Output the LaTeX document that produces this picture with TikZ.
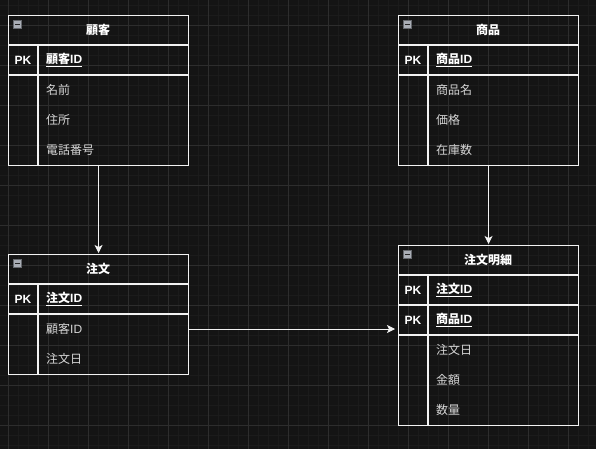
\documentclass[tikz,border=0pt]{standalone}
\usepackage{fontspec}
\setmainfont{Liberation Sans}
\newfontfamily\jp{Noto Sans CJK JP}
\usetikzlibrary{arrows.meta}
\definecolor{bgc}{HTML}{141414}
\definecolor{minorc}{HTML}{1B1B1B}
\definecolor{majorc}{HTML}{2D2D2D}
\definecolor{linec}{HTML}{F2F2F2}
\definecolor{fieldc}{HTML}{D6D6D6}
\definecolor{iconc}{HTML}{A9ADB5}
\tikzset{
  tbl/.style={draw=linec,line width=1.1pt,inner sep=0pt,anchor=north west},
  sep/.style={draw=linec,line width=1.1pt},
  ttl/.style={text=white,font=\fontsize{12}{14}\selectfont\bfseries,inner sep=0pt},
  pk/.style={text=white,font=\fontsize{12}{14}\selectfont\bfseries,inner sep=0pt},
  pkname/.style={text=white,font=\fontsize{12}{14}\selectfont\bfseries,inner sep=0pt,anchor=west},
  fld/.style={text=fieldc,font=\fontsize{12}{14}\selectfont,inner sep=0pt,anchor=west},
  icon/.style={fill=iconc,draw=iconc!60!black,line width=0.5pt,minimum size=8pt,inner sep=0pt},
  conn/.style={draw=linec,line width=1pt,-{Stealth[length=8pt,width=8pt,inset=2pt]}},
}
\begin{document}
\begin{tikzpicture}[x=1pt,y=-1pt]
\useasboundingbox (0,0) rectangle (596,449);
\fill[bgc] (0,0) rectangle (596,449);
\foreach \x in {-1.7,8.3,...,600} \draw[minorc,line width=0.6pt] (\x,0) -- (\x,449);
\foreach \y in {5,15,...,450} \draw[minorc,line width=0.6pt] (0,\y) -- (596,\y);
\foreach \x in {8.3,48.3,...,600} \draw[majorc,line width=0.8pt] (\x,0) -- (\x,449);
\foreach \y in {25,65,...,450} \draw[majorc,line width=0.8pt] (0,\y) -- (596,\y);

% 顧客
\node[tbl,minimum width=180pt,minimum height=150pt] (kokyaku) at (8,15) {};
\draw[sep] (8,45) -- (188,45);
\draw[sep] (8,75) -- (188,75);
\draw[sep] (38,45) -- (38,165);
\node[icon] (kokyaku-i) at (17.5,24.5) {};
\draw[black!85,line width=1.4pt] (15,24.5) -- (20,24.5);
\node[ttl] (kokyaku-t) at (98,30) {\jp 顧客};
\node[pk] (kokyaku-pk) at (23,60) {PK};
\node[pkname] (kokyaku-id) at (46,60) {\underline{{\jp 顧客}ID}};
\node[fld] (kokyaku-f1) at (46,90) {\jp 名前};
\node[fld] (kokyaku-f2) at (46,120) {\jp 住所};
\node[fld] (kokyaku-f3) at (46,150) {\jp 電話番号};

% 商品
\node[tbl,minimum width=180pt,minimum height=150pt] (shohin) at (398,15) {};
\draw[sep] (398,45) -- (578,45);
\draw[sep] (398,75) -- (578,75);
\draw[sep] (428,45) -- (428,165);
\node[icon] (shohin-i) at (407.5,24.5) {};
\draw[black!85,line width=1.4pt] (405,24.5) -- (410,24.5);
\node[ttl] (shohin-t) at (488,30) {\jp 商品};
\node[pk] (shohin-pk) at (413,60) {PK};
\node[pkname] (shohin-id) at (436,60) {\underline{{\jp 商品}ID}};
\node[fld] (shohin-f1) at (436,90) {\jp 商品名};
\node[fld] (shohin-f2) at (436,120) {\jp 価格};
\node[fld] (shohin-f3) at (436,150) {\jp 在庫数};

% 注文
\node[tbl,minimum width=180pt,minimum height=120pt] (chumon) at (8,254) {};
\draw[sep] (8,284) -- (188,284);
\draw[sep] (8,314) -- (188,314);
\draw[sep] (38,284) -- (38,374);
\node[icon] (chumon-i) at (17.5,263.5) {};
\draw[black!85,line width=1.4pt] (15,263.5) -- (20,263.5);
\node[ttl] (chumon-t) at (98,269) {\jp 注文};
\node[pk] (chumon-pk) at (23,299) {PK};
\node[pkname] (chumon-id) at (46,299) {\underline{{\jp 注文}ID}};
\node[fld] (chumon-f1) at (46,329) {{\jp 顧客}ID};
\node[fld] (chumon-f2) at (46,359) {\jp 注文日};

% 注文明細
\node[tbl,minimum width=180pt,minimum height=180pt] (meisai) at (398,245) {};
\draw[sep] (398,275) -- (578,275);
\draw[sep] (398,305) -- (578,305);
\draw[sep] (398,335) -- (578,335);
\draw[sep] (428,275) -- (428,425);
\node[icon] (meisai-i) at (407.5,254.5) {};
\draw[black!85,line width=1.4pt] (405,254.5) -- (410,254.5);
\node[ttl] (meisai-t) at (488,260) {\jp 注文明細};
\node[pk] (meisai-pk1) at (413,290) {PK};
\node[pkname] (meisai-id1) at (436,290) {\underline{{\jp 注文}ID}};
\node[pk] (meisai-pk2) at (413,320) {PK};
\node[pkname] (meisai-id2) at (436,320) {\underline{{\jp 商品}ID}};
\node[fld] (meisai-f1) at (436,350) {\jp 注文日};
\node[fld] (meisai-f2) at (436,380) {\jp 金額};
\node[fld] (meisai-f3) at (436,410) {\jp 数量};

% connectors
\coordinate (fkout) at (188,329);
\coordinate (fkin) at (398,329);
\draw[conn,shorten >=1pt] (kokyaku.south) -- (chumon.north);
\draw[conn,shorten >=1pt] (shohin.south) -- (meisai.north);
\draw[conn,shorten >=3pt] (fkout) -- (fkin);
\end{tikzpicture}
\end{document}
